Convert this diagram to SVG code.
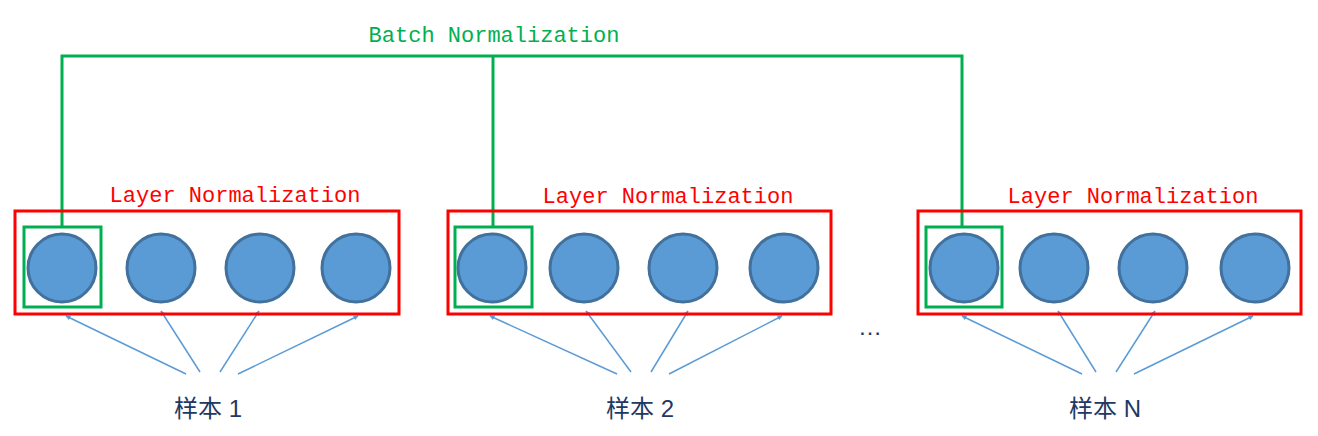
<svg xmlns="http://www.w3.org/2000/svg" width="1318" height="436" viewBox="0 0 1318 436">
<defs>
<marker id="ah" viewBox="0 0 10 10" refX="9" refY="5" markerWidth="5" markerHeight="5" orient="auto-start-reverse" markerUnits="userSpaceOnUse"><path d="M0,0L10,5L0,10z" fill="#5b9bd5"/></marker>
<style>
.red{fill:none;stroke:#ff0000;stroke-width:3}
.grn{fill:none;stroke:#00b050;stroke-width:3}
.c{fill:#5b9bd5;stroke:#41719c;stroke-width:3}
.a{stroke:#5b9bd5;stroke-width:1.5;fill:none;marker-end:url(#ah)}
.ln{font-family:"Liberation Mono",monospace;font-size:22px;fill:#ff0000}
.bn{font-family:"Liberation Mono",monospace;font-size:22px;fill:#00b050}
.s{font-family:"Liberation Sans","Noto Sans CJK SC",sans-serif;font-size:24px;fill:#1f3864}
</style>
</defs>
<rect width="1318" height="436" fill="#fff"/>
<g id="connectors">
<polyline class="grn" points="62,227 62,56 962,56 962,227"/>
<line class="grn" x1="493" y1="56" x2="493" y2="227"/>
<line class="a" x1="186" y1="374" x2="66" y2="316"/>
<line class="a" x1="200" y1="372" x2="161" y2="311"/>
<line class="a" x1="220" y1="372" x2="259" y2="311"/>
<line class="a" x1="238" y1="374" x2="358" y2="316"/>
<line class="a" x1="617" y1="374" x2="490" y2="316"/>
<line class="a" x1="631" y1="372" x2="586" y2="311"/>
<line class="a" x1="651" y1="372" x2="688" y2="311"/>
<line class="a" x1="669" y1="374" x2="782" y2="316"/>
<line class="a" x1="1082" y1="374" x2="962" y2="316"/>
<line class="a" x1="1096" y1="372" x2="1058" y2="311"/>
<line class="a" x1="1116" y1="372" x2="1155" y2="311"/>
<line class="a" x1="1134" y1="374" x2="1253" y2="316"/>
</g>
<text class="bn" x="494" y="42" text-anchor="middle">Batch Normalization</text>
<g id="sample1">
<text class="ln" x="235" y="202" text-anchor="middle">Layer Normalization</text>
<rect class="red" x="15" y="211" width="384" height="103"/>
<rect class="grn" x="24" y="227" width="77" height="80"/>
<circle class="c" cx="62" cy="268" r="34"/><circle class="c" cx="161" cy="268" r="34"/><circle class="c" cx="260" cy="268" r="34"/><circle class="c" cx="356" cy="268" r="34"/>
<text class="s" x="208" y="417" text-anchor="middle">样本 1</text>
</g>
<g id="sample2">
<text class="ln" x="668" y="203" text-anchor="middle">Layer Normalization</text>
<rect class="red" x="448" y="211" width="383" height="103"/>
<rect class="grn" x="455" y="227" width="77" height="80"/>
<circle class="c" cx="492" cy="268" r="34"/><circle class="c" cx="584" cy="268" r="34"/><circle class="c" cx="683" cy="268" r="34"/><circle class="c" cx="784" cy="268" r="34"/>
<text class="s" x="640" y="417" text-anchor="middle">样本 2</text>
</g>
<text class="s" x="870" y="335" text-anchor="middle">…</text>
<g id="sampleN">
<text class="ln" x="1133" y="203" text-anchor="middle">Layer Normalization</text>
<rect class="red" x="918" y="211" width="383" height="103"/>
<rect class="grn" x="926" y="227" width="76" height="80"/>
<circle class="c" cx="964" cy="268" r="34"/><circle class="c" cx="1054" cy="268" r="34"/><circle class="c" cx="1153" cy="268" r="34"/><circle class="c" cx="1255" cy="268" r="34"/>
<text class="s" x="1105" y="417" text-anchor="middle">样本 N</text>
</g>
</svg>
